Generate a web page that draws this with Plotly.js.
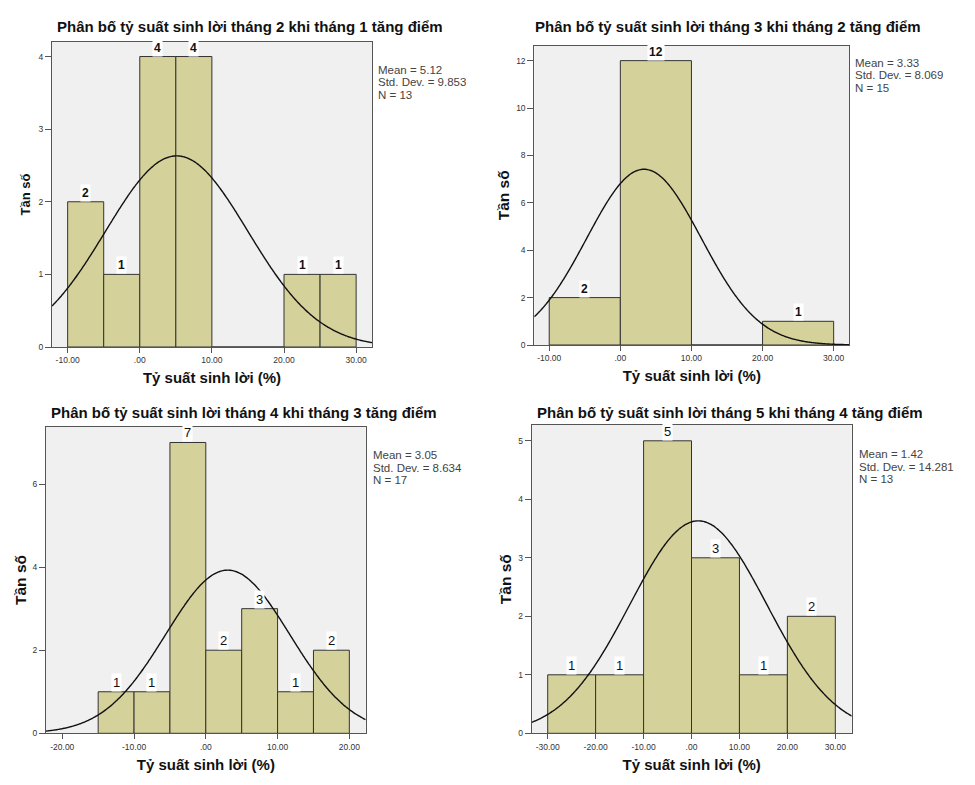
<!DOCTYPE html>
<html>
<head>
<meta charset="utf-8">
<script src="https://cdn.plot.ly/plotly-3.0.1.min.js"></script>
<style>
  html, body { margin: 0; padding: 0; background: #fff; }
  #chart { width: 975px; height: 785px; }
</style>
</head>
<body>
<div id="chart"></div>
<script>
// Histogram panels: return distribution in month t+1 given month t gained points
const titles = [
  "Phân bố tỷ suất sinh lời tháng 2 khi tháng 1 tăng điểm",
  "Phân bố tỷ suất sinh lời tháng 3 khi tháng 2 tăng điểm",
  "Phân bố tỷ suất sinh lời tháng 4 khi tháng 3 tăng điểm",
  "Phân bố tỷ suất sinh lời tháng 5 khi tháng 4 tăng điểm"
];

// Bin lower edges and counts for each panel
const binStart1 = [-10, -5, 0, 5, 10, 15, 20, 25];
const counts1   = [2, 1, 4, 4, 0, 0, 1, 1];
const binStart2 = [-10, 0, 10, 20];
const counts2   = [2, 12, 0, 1];
const binStart3 = [-15, -10, -5, 0, 5, 10, 15];
const counts3   = [1, 1, 7, 2, 3, 1, 2];
const binStart4 = [-30, -20, -10, 0, 10, 20];
const counts4   = [1, 1, 5, 3, 1, 2];

const binWidths = [5, 10, 5, 10];

// Summary statistics printed beside each panel
const means = [5.12, 3.33, 3.05, 1.42];
const stdDevs = [9.853, 8.069, 8.634, 14.281];
const nObs = [13, 15, 17, 13];
const meanLabels = ["5.12", "3.33", "3.05", "1.42"];
const sdLabels = ["9.853", "8.069", "8.634", "14.281"];

// Tick values / labels
const xTicks1 = [-10, 0, 10, 20, 30];
const xTickText1 = ["-10.00", ".00", "10.00", "20.00", "30.00"];
const xTicks3 = [-20, -10, 0, 10, 20];
const xTickText3 = ["-20.00", "-10.00", ".00", "10.00", "20.00"];
const xTicks4 = [-30, -20, -10, 0, 10, 20, 30];
const xTickText4 = ["-30.00", "-20.00", "-10.00", ".00", "10.00", "20.00", "30.00"];
const yTicks1 = [0, 1, 2, 3, 4];
const yTicks2 = [0, 2, 4, 6, 8, 10, 12];
const yTicks3 = [0, 2, 4, 6];
const yTicks4 = [0, 1, 2, 3, 4, 5];

const panels = [
  { bins: binStart1, counts: counts1, xr: [-12.17, 32.2], yr: [0, 4.2], xt: xTicks1, xtt: xTickText1, yt: yTicks1,
    dom: { x: [52, 372], y: [42, 347] }, bold: true, labelSize: 12, yTitleSize: 13, yStandoff: 5,
    titleX: 250, titleY: 27, stat: { x: 376, y: 62 } },
  { bins: binStart2, counts: counts2, xr: [-12.1, 32.2], yr: [0, 12.63], xt: xTicks1, xtt: xTickText1, yt: yTicks2,
    dom: { x: [534.3, 849.3], y: [45.7, 345] }, bold: true, labelSize: 12, yTitleSize: 15.5, yStandoff: 2,
    titleX: 728, titleY: 27, stat: { x: 853, y: 55 } },
  { bins: binStart3, counts: counts3, xr: [-22.27, 22.28], yr: [0, 7.38], xt: xTicks3, xtt: xTickText3, yt: yTicks3,
    dom: { x: [46, 365.7], y: [426.7, 733.3] }, bold: false, labelSize: 13, yTitleSize: 15.5, yStandoff: 2,
    titleX: 244, titleY: 412, stat: { x: 371, y: 447 } },
  { bins: binStart4, counts: counts4, xr: [-33.34, 33.42], yr: [0, 5.27], xt: xTicks4, xtt: xTickText4, yt: yTicks4,
    dom: { x: [531.7, 851.7], y: [425, 733.3] }, bold: false, labelSize: 13, yTitleSize: 15.5, yStandoff: 2,
    titleX: 730, titleY: 412, stat: { x: 857, y: 446 } }
];

const W = 975, H = 785;
const FONT = "Liberation Sans, Arial, sans-serif";
const data = [];
const annotations = [];
const layout = {
  width: W, height: H,
  margin: { l: 0, r: 0, t: 0, b: 0 },
  paper_bgcolor: "#ffffff",
  plot_bgcolor: "#F0F0F0",
  showlegend: false,
  bargap: 0,
  font: { family: FONT, color: "#222" },
  annotations: annotations
};

function normalPdf(x, m, s) {
  return Math.exp(-0.5 * ((x - m) / s) ** 2) / (s * Math.sqrt(2 * Math.PI));
}

panels.forEach((p, i) => {
  const k = i + 1;
  const xa = "x" + (k === 1 ? "" : k);
  const ya = "y" + (k === 1 ? "" : k);
  const xKey = "xaxis" + (k === 1 ? "" : k);
  const yKey = "yaxis" + (k === 1 ? "" : k);
  const w = binWidths[i];
  const centers = p.bins.map(b => b + w / 2);

  // Histogram bars
  data.push({
    type: "bar", x: centers, y: p.counts, width: w,
    xaxis: xa, yaxis: ya,
    marker: { color: "#D5D19B", line: { color: "#333333", width: 1 } },
    hoverinfo: "x+y"
  });

  // Fitted normal curve scaled to counts
  const cx = [], cy = [];
  const steps = 300;
  for (let j = 0; j <= steps; j++) {
    const x = p.xr[0] + (p.xr[1] - p.xr[0]) * j / steps;
    cx.push(x);
    cy.push(nObs[i] * w * normalPdf(x, means[i], stdDevs[i]));
  }
  data.push({
    type: "scatter", mode: "lines", x: cx, y: cy,
    xaxis: xa, yaxis: ya,
    line: { color: "#111111", width: 1.4, shape: "spline" },
    hoverinfo: "skip"
  });

  layout[xKey] = {
    domain: [p.dom.x[0] / W, p.dom.x[1] / W],
    anchor: ya,
    range: p.xr,
    tickvals: p.xt, ticktext: p.xtt,
    ticks: "outside", ticklen: 5, tickcolor: "#555",
    tickfont: { family: FONT, size: 8.5, color: "#333" },
    showline: true, mirror: true, linecolor: "#555", linewidth: 1,
    showgrid: false, zeroline: false,
    title: { text: "Tỷ suất sinh lời (%)", font: { family: FONT, size: 15, color: "#111", weight: "bold" }, standoff: 8 }
  };
  layout[yKey] = {
    domain: [1 - p.dom.y[1] / H, 1 - p.dom.y[0] / H],
    anchor: xa,
    range: p.yr,
    tickvals: p.yt,
    ticks: "outside", ticklen: 6, tickcolor: "#555",
    tickfont: { family: FONT, size: 8.5, color: "#333" },
    showline: true, mirror: true, linecolor: "#555", linewidth: 1,
    showgrid: false, zeroline: false,
    title: { text: "Tần số", font: { family: FONT, size: p.yTitleSize, color: "#111", weight: "bold" }, standoff: p.yStandoff }
  };

  // Count labels on top of each non-empty bar
  p.counts.forEach((c, j) => {
    if (c === 0) return;
    annotations.push({
      xref: xa, yref: ya, x: centers[j], y: c,
      xanchor: "center", yanchor: "bottom",
      text: p.bold ? "<b>" + c + "</b>" : String(c),
      showarrow: false, bgcolor: "#ffffff", borderpad: 1,
      font: { family: FONT, size: p.labelSize, color: "#111" }
    });
  });

  // Panel title
  annotations.push({
    xref: "paper", yref: "paper",
    x: p.titleX / W, y: 1 - p.titleY / H,
    xanchor: "center", yanchor: "middle",
    text: "<b>" + titles[i] + "</b>", showarrow: false,
    font: { family: FONT, size: 15, color: "#111" }
  });

  // Summary statistics beside the panel
  const statLines = ["Mean = " + meanLabels[i], "Std. Dev. = " + sdLabels[i], "N = " + nObs[i]];
  statLines.forEach((t, j) => {
    annotations.push({
      xref: "paper", yref: "paper",
      x: p.stat.x / W, y: 1 - (p.stat.y + j * 12.5) / H,
      xanchor: "left", yanchor: "top",
      height: 12, valign: "middle",
      text: t, showarrow: false,
      font: { family: FONT, size: 11.5, color: "#444" }
    });
  });
});

Plotly.newPlot("chart", data, layout, { displayModeBar: false, staticPlot: true });
</script>
</body>
</html>
